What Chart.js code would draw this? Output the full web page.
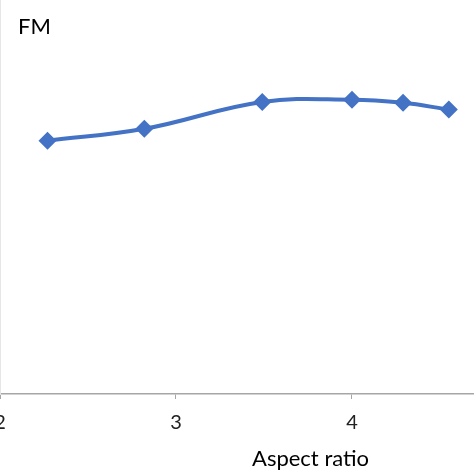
<!DOCTYPE html>
<html>
<head>
<meta charset="utf-8">
<script src="https://cdn.jsdelivr.net/npm/chart.js@4"></script>
<style>
  html, body { margin: 0; padding: 0; background: #fff; }
  #wrap { width: 474px; height: 474px; }
</style>
</head>
<body>
<div id="wrap"><canvas id="c"></canvas></div>
<script>
  const aspectRatio = [2.27, 2.82, 3.49, 4.0, 4.29, 4.55];
  const fmValues = [0.643, 0.673, 0.741, 0.747, 0.739, 0.722];
  const xTicks = [2, 3, 4];

  const lineColor = "#4472c4";

  // text labels that sit outside the normal axis title slots
  const labels = {
    id: "labels",
    afterDraw(chart) {
      const ctx = chart.ctx;
      ctx.save();
      ctx.fillStyle = "#000";
      ctx.textBaseline = "alphabetic";
      ctx.textAlign = "left";
      ctx.font = "22px Lato";
      ctx.fillText("FM", 18, 34);
      ctx.font = "22px Lato";
      ctx.fillText("Aspect ratio", 252, 466);
      ctx.restore();
    }
  };

  new Chart(document.getElementById("c"), {
    type: "line",
    data: {
      datasets: [{
        data: aspectRatio.map((x, i) => ({ x, y: fmValues[i] })),
        borderColor: lineColor,
        backgroundColor: lineColor,
        borderWidth: 4,
        tension: 0.4,
        pointStyle: "rectRot",
        pointRadius: 9,
        pointBorderWidth: 0,
        clip: false
      }]
    },
    options: {
      responsive: true,
      maintainAspectRatio: false,
      animation: false,
      layout: { autoPadding: false, padding: { top: 0, left: 0, right: 0, bottom: 27 } },
      plugins: { legend: { display: false }, tooltip: { enabled: false } },
      scales: {
        x: {
          type: "linear",
          min: 2,
          max: 2 + 474 / 176,
          afterBuildTicks: (s) => { s.ticks = xTicks.map((v) => ({ value: v })); },
          afterFit: (s) => { s.paddingLeft = 0; s.paddingRight = 0; },
          border: { display: true, color: "#a6a6a6", width: 1.5 },
          grid: { drawOnChartArea: false, drawTicks: true, tickLength: 5, color: "#a6a6a6" },
          ticks: { color: "#222", font: { family: "Lato", size: 20 }, padding: 12, maxRotation: 0 }
        },
        y: {
          min: 0,
          max: 1,
          afterFit: (s) => { s.width = 0; },
          border: { display: true, color: "#e6e6e6", width: 1 },
          grid: { display: false },
          ticks: { display: false }
        }
      }
    },
    plugins: [labels]
  });
</script>
</body>
</html>
